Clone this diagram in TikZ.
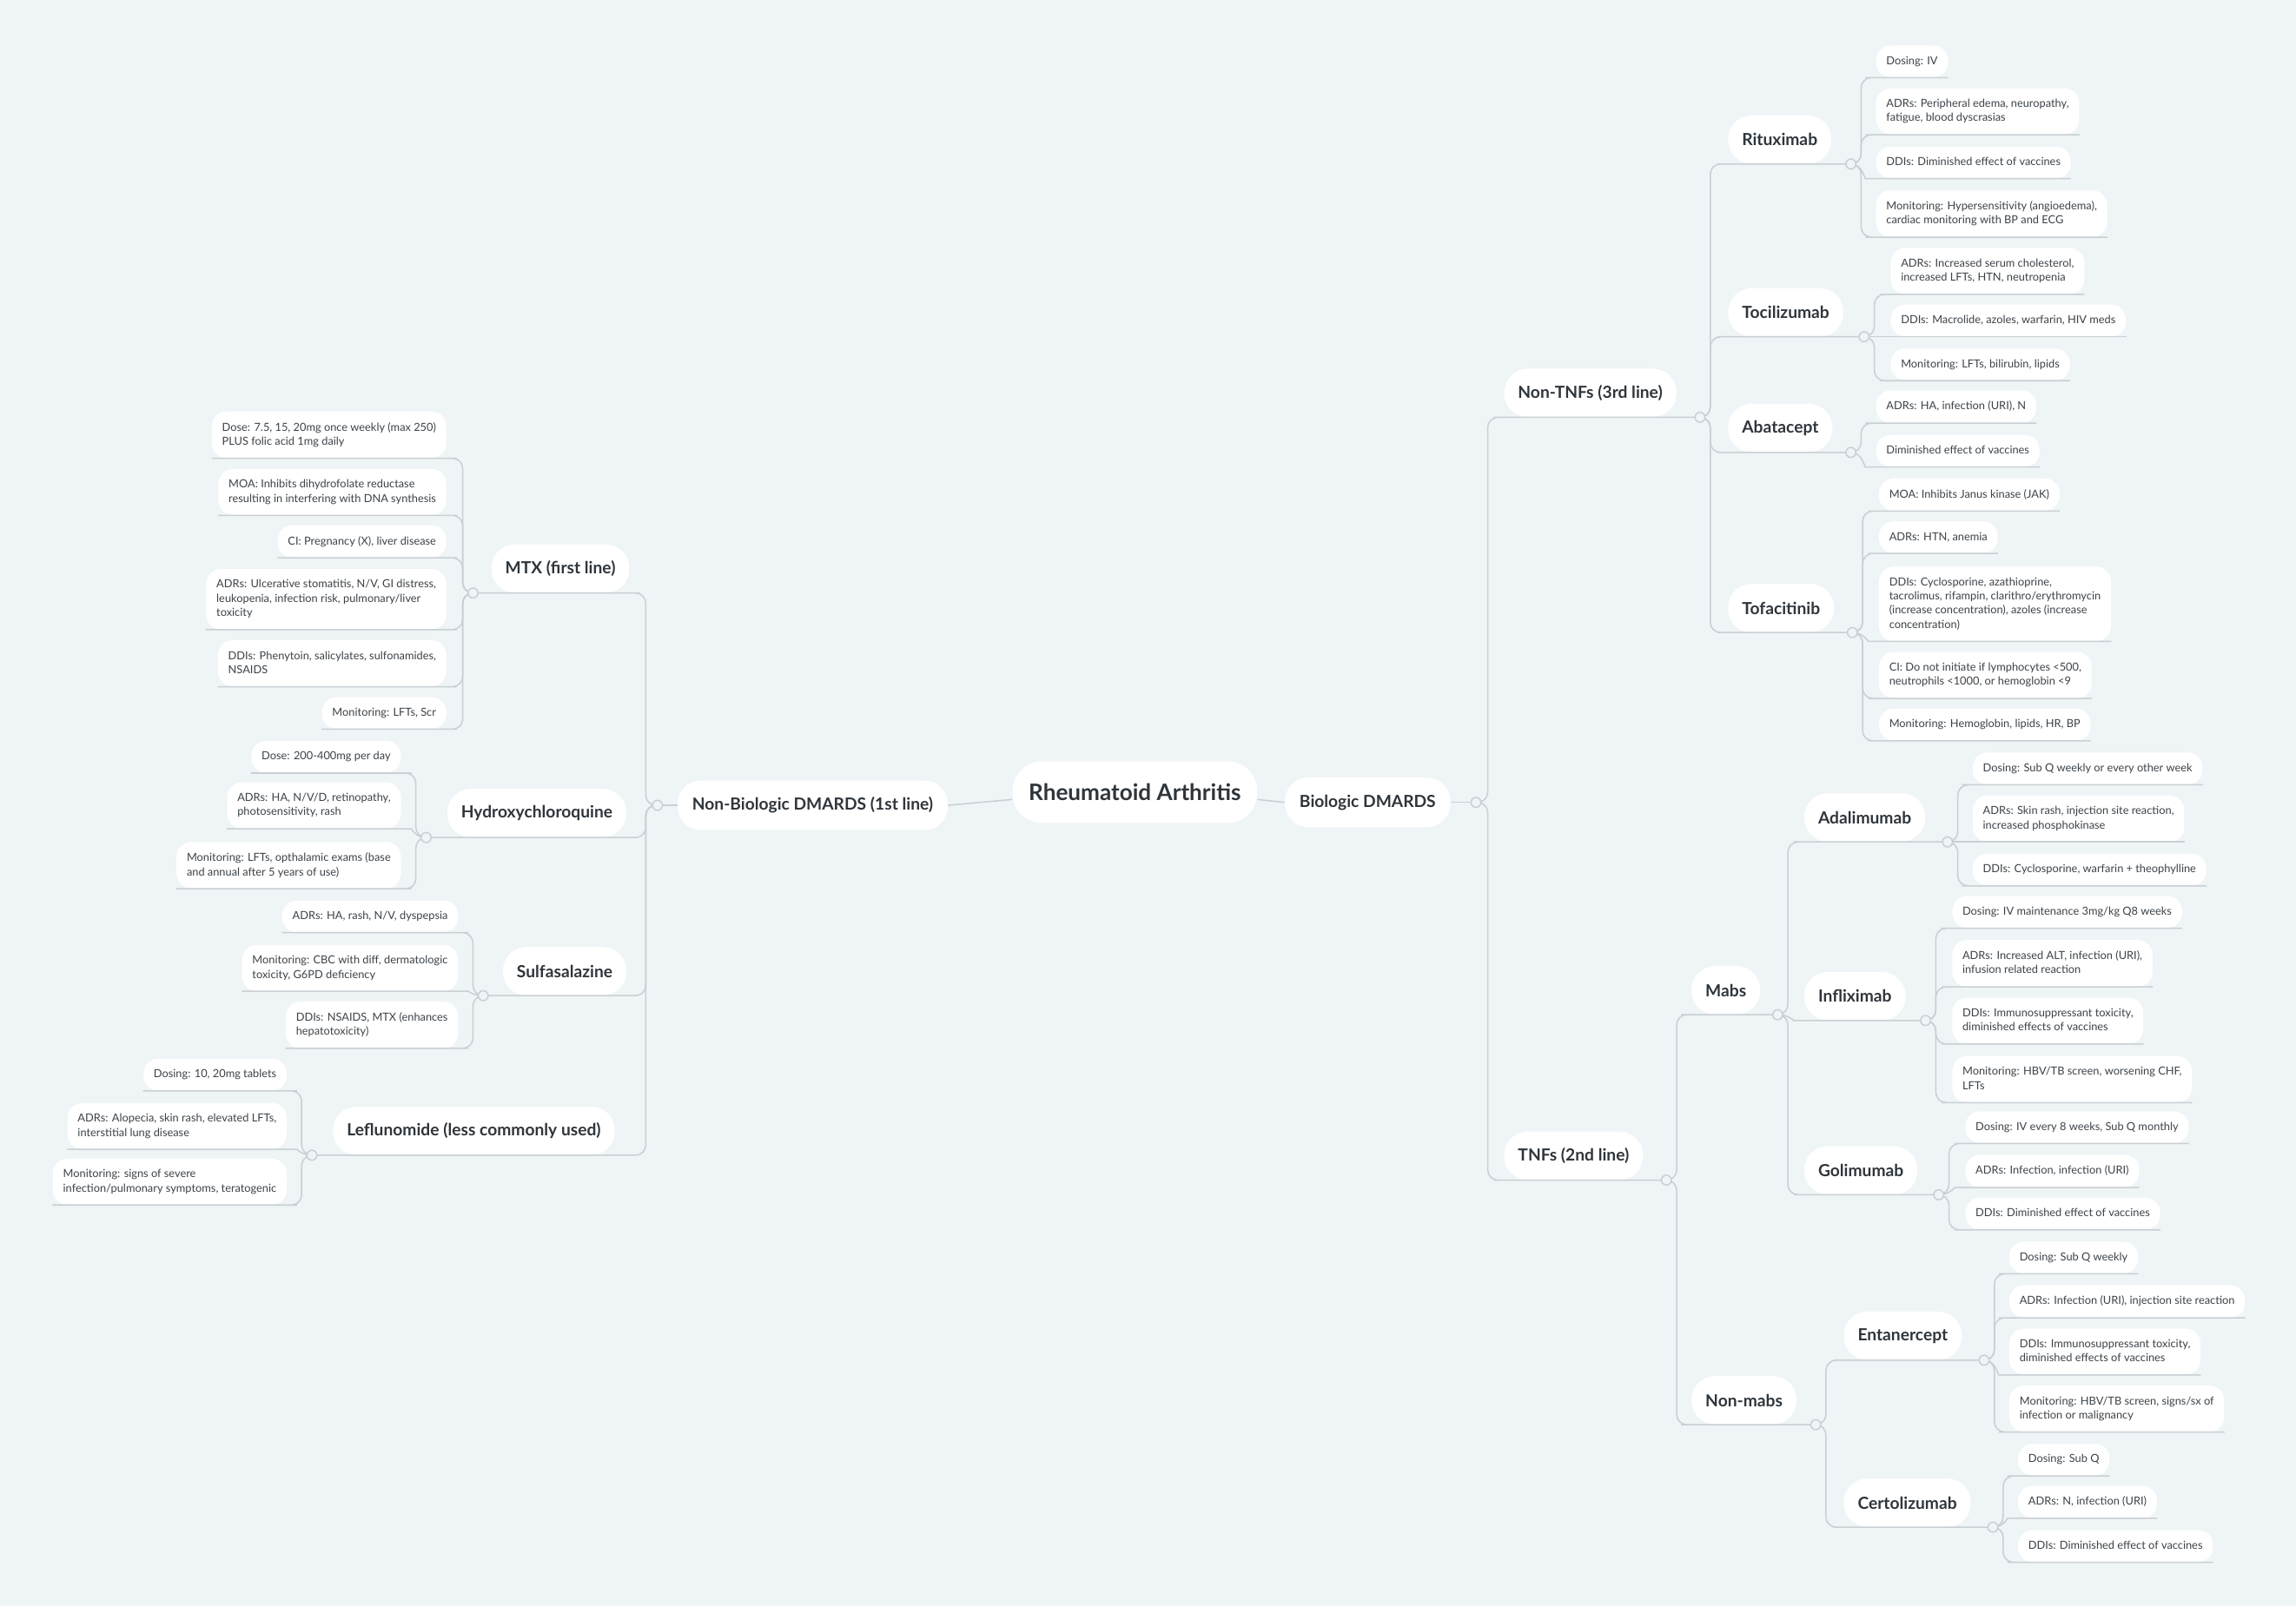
\documentclass[tikz,border=0pt]{standalone}
\usepackage{fontspec}
\setmainfont{Lato}
\usetikzlibrary{positioning}

\definecolor{bgcol}{HTML}{EFF4F6}
\definecolor{linecol}{HTML}{C9CFD3}
\definecolor{inkcol}{HTML}{2E353B}
\definecolor{leafcol}{HTML}{3C4349}

\newcommand\leaffont{\fontsize{7.6}{9.7}\selectfont}
\newcommand\branchfont{\bfseries\fontsize{11.4}{13}\selectfont}
\newcommand\topicfont{\bfseries\fontsize{11.4}{13}\selectfont}
\newcommand\rootfont{\bfseries\fontsize{15.5}{18}\selectfont}

\begin{document}
\begin{tikzpicture}[x=1pt, y=-1pt,
  root/.style={fill=white, rounded corners=20pt, minimum height=42pt, inner xsep=11pt, font=\rootfont, text=inkcol},
  topic/.style={fill=white, rounded corners=16pt, minimum height=34pt, inner xsep=10pt, font=\topicfont, text=inkcol},
  branch/.style={fill=white, rounded corners=16pt, minimum height=33pt, inner xsep=9.5pt, font=\branchfont, text=inkcol},
  leaf/.style={fill=white, rounded corners=10pt, inner xsep=7pt, inner ysep=7.4pt, align=left, font=\leaffont, text=leafcol,
    execute at begin node={\vphantom{Ag}}, execute at end node={\vphantom{g}}},
  link/.style={draw=linecol, line width=0.9pt, rounded corners=7pt},
  junc/.style={draw=linecol, fill=bgcol, line width=0.9pt}]

\useasboundingbox (0,0) rectangle (1568,1097);
\fill[bgcol] (0,0) rectangle (1568,1097);

% centre
\node[root] (ra) at (775,541) {Rheumatoid Arthritis};
\node[topic] (nbd) at (555,550) {Non-Biologic DMARDS (1st line)};
\node[topic] (bd) at (934,548) {Biologic DMARDS};

% non-biologic side
\node[branch, anchor=south east] (mtx) at (430,405) {MTX (first line)};
\node[branch, anchor=south east] (hcq) at (428,572) {Hydroxychloroquine};
\node[branch, anchor=south east] (ssz) at (428,680) {Sulfasalazine};
\node[branch, anchor=south east] (lef) at (420,789) {Leflunomide (less commonly used)};

\node[leaf, anchor=south east] (mtx1) at (305,313) {Dose: 7.5, 15, 20mg once weekly (max 250)\\PLUS folic acid 1mg daily};
\node[leaf, anchor=south east] (mtx2) at (305,352) {MOA: Inhibits dihydrofolate reductase\\resulting in interfering with DNA synthesis};
\node[leaf, anchor=south east] (mtx3) at (305,381) {CI: Pregnancy (X), liver disease};
\node[leaf, anchor=south east] (mtx4) at (305,430) {ADRs: Ulcerative stomatitis, N/V, GI distress,\\leukopenia, infection risk, pulmonary/liver\\toxicity};
\node[leaf, anchor=south east] (mtx5) at (305,469) {DDIs: Phenytoin, salicylates, sulfonamides,\\NSAIDS};
\node[leaf, anchor=south east] (mtx6) at (305,498) {Monitoring: LFTs, Scr};

\node[leaf, anchor=south east] (hcq1) at (274,528) {Dose: 200-400mg per day};
\node[leaf, anchor=south east] (hcq2) at (274,566) {ADRs: HA, N/V/D, retinopathy,\\photosensitivity, rash};
\node[leaf, anchor=south east] (hcq3) at (274,607) {Monitoring: LFTs, opthalamic exams (base\\and annual after 5 years of use)};

\node[leaf, anchor=south east] (ssz1) at (313,637) {ADRs: HA, rash, N/V, dyspepsia};
\node[leaf, anchor=south east] (ssz2) at (313,677) {Monitoring: CBC with diff, dermatologic\\toxicity, G6PD deficiency};
\node[leaf, anchor=south east] (ssz3) at (313,716) {DDIs: NSAIDS, MTX (enhances\\hepatotoxicity)};

\node[leaf, anchor=south east] (lef1) at (196,745) {Dosing: 10, 20mg tablets};
\node[leaf, anchor=south east] (lef2) at (196,785) {ADRs: Alopecia, skin rash, elevated LFTs,\\interstitial lung disease};
\node[leaf, anchor=south east] (lef3) at (196,823) {Monitoring: signs of severe\\infection/pulmonary symptoms, teratogenic};

% biologic side
\node[branch, anchor=south west] (nontnf) at (1027,285) {Non-TNFs (3rd line)};
\node[branch, anchor=south west] (tnf) at (1027,806) {TNFs (2nd line)};

\node[branch, anchor=south west] (rtx) at (1180,112) {Rituximab};
\node[branch, anchor=south west] (toc) at (1180,230) {Tocilizumab};
\node[branch, anchor=south west] (aba) at (1180,309) {Abatacept};
\node[branch, anchor=south west] (tof) at (1180,432) {Tofacitinib};

\node[branch, anchor=south west] (mabs) at (1155,693) {Mabs};
\node[branch, anchor=south west] (nonmabs) at (1155,973) {Non-mabs};
\node[branch, anchor=south west] (ada) at (1232,575) {Adalimumab};
\node[branch, anchor=south west] (ifx) at (1232,697) {Infliximab};
\node[branch, anchor=south west] (gol) at (1232,816) {Golimumab};
\node[branch, anchor=south west] (eta) at (1259,929) {Entanercept};
\node[branch, anchor=south west] (cer) at (1259,1043) {Certolizumab};

\node[leaf, anchor=south west] (rtx1) at (1281,53) {Dosing: IV};
\node[leaf, anchor=south west] (rtx2) at (1281,92) {ADRs: Peripheral edema, neuropathy,\\fatigue, blood dyscrasias};
\node[leaf, anchor=south west] (rtx3) at (1281,122) {DDIs: Diminished effect of vaccines};
\node[leaf, anchor=south west] (rtx4) at (1281,162) {Monitoring: Hypersensitivity (angioedema),\\cardiac monitoring with BP and ECG};

\node[leaf, anchor=south west] (toc1) at (1291,201) {ADRs: Increased serum cholesterol,\\increased LFTs, HTN, neutropenia};
\node[leaf, anchor=south west] (toc2) at (1291,230) {DDIs: Macrolide, azoles, warfarin, HIV meds};
\node[leaf, anchor=south west] (toc3) at (1291,260) {Monitoring: LFTs, bilirubin, lipids};

\node[leaf, anchor=south west] (aba1) at (1281,289) {ADRs: HA, infection (URI), N};
\node[leaf, anchor=south west] (aba2) at (1281,319) {Diminished effect of vaccines};

\node[leaf, anchor=south west] (tof1) at (1283,349) {MOA: Inhibits Janus kinase (JAK)};
\node[leaf, anchor=south west] (tof2) at (1283,378) {ADRs: HTN, anemia};
\node[leaf, anchor=south west] (tof3) at (1283,438) {DDIs: Cyclosporine, azathioprine,\\tacrolimus, rifampin, clarithro/erythromycin\\(increase concentration), azoles (increase\\concentration)};
\node[leaf, anchor=south west] (tof4) at (1283,477) {CI: Do not initiate if lymphocytes <500,\\neutrophils <1000, or hemoglobin <9};
\node[leaf, anchor=south west] (tof5) at (1283,506) {Monitoring: Hemoglobin, lipids, HR, BP};

\node[leaf, anchor=south west] (ada1) at (1347,536) {Dosing: Sub Q weekly or every other week};
\node[leaf, anchor=south west] (ada2) at (1347,575) {ADRs: Skin rash, injection site reaction,\\increased phosphokinase};
\node[leaf, anchor=south west] (ada3) at (1347,605) {DDIs: Cyclosporine, warfarin + theophylline};

\node[leaf, anchor=south west] (ifx1) at (1333,634) {Dosing: IV maintenance 3mg/kg Q8 weeks};
\node[leaf, anchor=south west] (ifx2) at (1333,674) {ADRs: Increased ALT, infection (URI),\\infusion related reaction};
\node[leaf, anchor=south west] (ifx3) at (1333,713) {DDIs: Immunosuppressant toxicity,\\diminished effects of vaccines};
\node[leaf, anchor=south west] (ifx4) at (1333,753) {Monitoring: HBV/TB screen, worsening CHF,\\LFTs};

\node[leaf, anchor=south west] (gol1) at (1342,781) {Dosing: IV every 8 weeks, Sub Q monthly};
\node[leaf, anchor=south west] (gol2) at (1342,811) {ADRs: Infection, infection (URI)};
\node[leaf, anchor=south west] (gol3) at (1342,840) {DDIs: Diminished effect of vaccines};

\node[leaf, anchor=south west] (eta1) at (1372,870) {Dosing: Sub Q weekly};
\node[leaf, anchor=south west] (eta2) at (1372,900) {ADRs: Infection (URI), injection site reaction};
\node[leaf, anchor=south west] (eta3) at (1372,939) {DDIs: Immunosuppressant toxicity,\\diminished effects of vaccines};
\node[leaf, anchor=south west] (eta4) at (1372,978) {Monitoring: HBV/TB screen, signs/sx of\\infection or malignancy};

\node[leaf, anchor=south west] (cer1) at (1378,1008) {Dosing: Sub Q};
\node[leaf, anchor=south west] (cer2) at (1378,1037) {ADRs: N, infection (URI)};
\node[leaf, anchor=south west] (cer3) at (1378,1067) {DDIs: Diminished effect of vaccines};

% junction points
\coordinate (jnbd) at (449,550);
\coordinate (jbd) at (1008,548);
\coordinate (jmtx) at (323,405);
\coordinate (jhcq) at (291,572);
\coordinate (jssz) at (330,680);
\coordinate (jlef) at (213,789);
\coordinate (jnontnf) at (1161,285);
\coordinate (jtnf) at (1138,806);
\coordinate (jrtx) at (1264,112);
\coordinate (jtoc) at (1273,230);
\coordinate (jaba) at (1264,309);
\coordinate (jtof) at (1265,432);
\coordinate (jmabs) at (1214,693);
\coordinate (jnonmabs) at (1240,973);
\coordinate (jada) at (1330,575);
\coordinate (jifx) at (1315,697);
\coordinate (jgol) at (1324,816);
\coordinate (jeta) at (1355,929);
\coordinate (jcer) at (1361,1043);

% links
\draw[link] (nbd.east) -- ([yshift=-5pt]ra.west);
\draw[link] ([yshift=-5pt]ra.east) -- (bd.west);
\draw[link] (nbd.west) -- (jnbd);
\draw[link] (bd.east) -- (jbd);

\draw[link] (jnbd) -- ++(-8,0) |- (mtx.south east) -- (jmtx);
\draw[link] (jnbd) -- ++(-8,0) |- (hcq.south east) -- (jhcq);
\draw[link] (jnbd) -- ++(-8,0) |- (ssz.south east) -- (jssz);
\draw[link] (jnbd) -- ++(-8,0) |- (lef.south east) -- (jlef);

\draw[link] (jmtx) -- ++(-7,0) |- (mtx1.south east) -- (mtx1.south west);
\draw[link] (jmtx) -- ++(-7,0) |- (mtx2.south east) -- (mtx2.south west);
\draw[link] (jmtx) -- ++(-7,0) |- (mtx3.south east) -- (mtx3.south west);
\draw[link] (jmtx) -- ++(-7,0) |- (mtx4.south east) -- (mtx4.south west);
\draw[link] (jmtx) -- ++(-7,0) |- (mtx5.south east) -- (mtx5.south west);
\draw[link] (jmtx) -- ++(-7,0) |- (mtx6.south east) -- (mtx6.south west);

\draw[link] (jhcq) -- ++(-7,0) |- (hcq1.south east) -- (hcq1.south west);
\draw[link] (jhcq) to[out=180, in=0] (hcq2.south east) -- (hcq2.south west);
\draw[link] (jhcq) -- ++(-7,0) |- (hcq3.south east) -- (hcq3.south west);

\draw[link] (jssz) -- ++(-7,0) |- (ssz1.south east) -- (ssz1.south west);
\draw[link] (jssz) to[out=180, in=0] (ssz2.south east) -- (ssz2.south west);
\draw[link] (jssz) -- ++(-7,0) |- (ssz3.south east) -- (ssz3.south west);

\draw[link] (jlef) -- ++(-7,0) |- (lef1.south east) -- (lef1.south west);
\draw[link] (jlef) to[out=180, in=0] (lef2.south east) -- (lef2.south west);
\draw[link] (jlef) -- ++(-7,0) |- (lef3.south east) -- (lef3.south west);

\draw[link] (jbd) -- ++(8,0) |- (nontnf.south west) -- (jnontnf);
\draw[link] (jbd) -- ++(8,0) |- (tnf.south west) -- (jtnf);

\draw[link] (jnontnf) -- ++(7,0) |- (rtx.south west) -- (jrtx);
\draw[link] (jnontnf) -- ++(7,0) |- (toc.south west) -- (jtoc);
\draw[link] (jnontnf) -- ++(7,0) |- (aba.south west) -- (jaba);
\draw[link] (jnontnf) -- ++(7,0) |- (tof.south west) -- (jtof);

\draw[link] (jrtx) -- ++(7,0) |- (rtx1.south west) -- (rtx1.south east);
\draw[link] (jrtx) -- ++(7,0) |- (rtx2.south west) -- (rtx2.south east);
\draw[link] (jrtx) to[out=0, in=180] (rtx3.south west) -- (rtx3.south east);
\draw[link] (jrtx) -- ++(7,0) |- (rtx4.south west) -- (rtx4.south east);

\draw[link] (jtoc) -- ++(7,0) |- (toc1.south west) -- (toc1.south east);
\draw[link] (jtoc) -- (toc2.south west) -- (toc2.south east);
\draw[link] (jtoc) -- ++(7,0) |- (toc3.south west) -- (toc3.south east);

\draw[link] (jaba) -- ++(7,0) |- (aba1.south west) -- (aba1.south east);
\draw[link] (jaba) to[out=0, in=180] (aba2.south west) -- (aba2.south east);

\draw[link] (jtof) -- ++(7,0) |- (tof1.south west) -- (tof1.south east);
\draw[link] (jtof) -- ++(7,0) |- (tof2.south west) -- (tof2.south east);
\draw[link] (jtof) to[out=0, in=180] (tof3.south west) -- (tof3.south east);
\draw[link] (jtof) -- ++(7,0) |- (tof4.south west) -- (tof4.south east);
\draw[link] (jtof) -- ++(7,0) |- (tof5.south west) -- (tof5.south east);

\draw[link] (jtnf) -- ++(7,0) |- (mabs.south west) -- (jmabs);
\draw[link] (jtnf) -- ++(7,0) |- (nonmabs.south west) -- (jnonmabs);

\draw[link] (jmabs) -- ++(7,0) |- (ada.south west) -- (jada);
\draw[link] (jmabs) to[out=0, in=180] (ifx.south west) -- (jifx);
\draw[link] (jmabs) -- ++(7,0) |- (gol.south west) -- (jgol);

\draw[link] (jada) -- ++(7,0) |- (ada1.south west) -- (ada1.south east);
\draw[link] (jada) -- (ada2.south west) -- (ada2.south east);
\draw[link] (jada) -- ++(7,0) |- (ada3.south west) -- (ada3.south east);

\draw[link] (jifx) -- ++(7,0) |- (ifx1.south west) -- (ifx1.south east);
\draw[link] (jifx) -- ++(7,0) |- (ifx2.south west) -- (ifx2.south east);
\draw[link] (jifx) -- ++(7,0) |- (ifx3.south west) -- (ifx3.south east);
\draw[link] (jifx) -- ++(7,0) |- (ifx4.south west) -- (ifx4.south east);

\draw[link] (jgol) -- ++(7,0) |- (gol1.south west) -- (gol1.south east);
\draw[link] (jgol) to[out=0, in=180] (gol2.south west) -- (gol2.south east);
\draw[link] (jgol) -- ++(7,0) |- (gol3.south west) -- (gol3.south east);

\draw[link] (jnonmabs) -- ++(7,0) |- (eta.south west) -- (jeta);
\draw[link] (jnonmabs) -- ++(7,0) |- (cer.south west) -- (jcer);

\draw[link] (jeta) -- ++(7,0) |- (eta1.south west) -- (eta1.south east);
\draw[link] (jeta) -- ++(7,0) |- (eta2.south west) -- (eta2.south east);
\draw[link] (jeta) to[out=0, in=180] (eta3.south west) -- (eta3.south east);
\draw[link] (jeta) -- ++(7,0) |- (eta4.south west) -- (eta4.south east);

\draw[link] (jcer) -- ++(7,0) |- (cer1.south west) -- (cer1.south east);
\draw[link] (jcer) to[out=0, in=180] (cer2.south west) -- (cer2.south east);
\draw[link] (jcer) -- ++(7,0) |- (cer3.south west) -- (cer3.south east);

% junction rings
\foreach \j in {jnbd,jbd,jmtx,jhcq,jssz,jlef,jnontnf,jtnf,jrtx,jtoc,jaba,jtof,jmabs,jnonmabs,jada,jifx,jgol,jeta,jcer}
  \draw[junc] (\j) circle (3.4pt);
\end{tikzpicture}
\end{document}
